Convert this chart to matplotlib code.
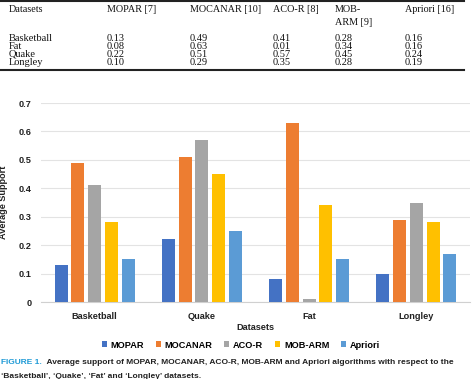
import numpy as np
import matplotlib.pyplot as plt
from matplotlib.lines import Line2D

# table data
tbl_header = ['Datasets', 'MOPAR [7]', 'MOCANAR [10]', 'ACO-R [8]', 'MOB-\nARM [9]', 'Apriori [16]']
tbl_rows = ['Basketball', 'Fat', 'Quake', 'Longley']
tbl_mopar = ['0.13', '0.08', '0.22', '0.10']
tbl_mocanar = ['0.49', '0.63', '0.51', '0.29']
tbl_acor = ['0.41', '0.01', '0.57', '0.35']
tbl_mobarm = ['0.28', '0.34', '0.45', '0.28']
tbl_apriori = ['0.16', '0.16', '0.24', '0.19']

# chart data
datasets = ['Basketball', 'Quake', 'Fat', 'Longley']
algos = ['MOPAR', 'MOCANAR', 'ACO-R', 'MOB-ARM', 'Apriori']
mopar = [0.13, 0.22, 0.08, 0.10]
mocanar = [0.49, 0.51, 0.63, 0.29]
acor = [0.41, 0.57, 0.01, 0.35]
mobarm = [0.28, 0.45, 0.34, 0.28]
apriori = [0.15, 0.25, 0.15, 0.17]
colors = ['#4472C4', '#ED7D31', '#A5A5A5', '#FFC000', '#5B9BD5']

W, H = 474, 379
fig = plt.figure(figsize=(W / 100, H / 100), dpi=100)

def fy(py):
    return 1 - py / H

# ---- table ----
serif = 'Liberation Serif'
col_x = [9, 107, 190, 273, 335, 405]
fig.add_artist(Line2D([0, 464 / W], [fy(1), fy(1)], color='#222222', lw=1.5))
fig.add_artist(Line2D([0, 464 / W], [fy(69.5), fy(69.5)], color='#222222', lw=1.5))
for x, h in zip(col_x, tbl_header):
    fig.text(x / W, fy(5.5), h, family=serif, fontsize=7.3, va='top', ha='left',
             linespacing=1.45, color='#111111')
cols = [tbl_rows, tbl_mopar, tbl_mocanar, tbl_acor, tbl_mobarm, tbl_apriori]
for i in range(len(tbl_rows)):
    y = 38.5 + i * 8.0
    for x, c in zip(col_x, cols):
        fig.text(x / W, fy(y), c[i], family=serif, fontsize=7.5, va='center',
                 ha='left', color='#111111')

# ---- bar chart ----
sans = 'Liberation Sans'
ax = fig.add_axes([41 / W, fy(302), 429 / W, (302 - 103) / H])
x = np.arange(len(datasets))
series = [mopar, mocanar, acor, mobarm, apriori]
slot = 0.156
for k, (vals, col) in enumerate(zip(series, colors)):
    ax.bar(x + (k - 2) * slot, vals, width=0.12, color=col, label=algos[k], zorder=3)

ax.set_xlim(-0.5, 3.5)
ax.set_ylim(0, 0.7)
yt = [0, 0.1, 0.2, 0.3, 0.4, 0.5, 0.6, 0.7]
ax.set_yticks(yt)
ax.set_yticklabels(['0', '0.1', '0.2', '0.3', '0.4', '0.5', '0.6', '0.7'])
ax.set_xticks(x)
ax.set_xticklabels(datasets)
for lab in ax.get_xticklabels() + ax.get_yticklabels():
    lab.set_family(sans)
    lab.set_fontweight('bold')
    lab.set_fontsize(6.6)
    lab.set_color('#222222')
ax.tick_params(axis='y', length=0, pad=7)
ax.tick_params(axis='x', length=0, pad=7)
ax.grid(axis='y', color='#E3E3E3', lw=0.8, zorder=0)
for s in ['top', 'right', 'left']:
    ax.spines[s].set_visible(False)
ax.spines['bottom'].set_color('#D0D0D0')
ax.set_ylabel('Average Support', family=sans, fontweight='bold', fontsize=6.6,
              color='#222222')
ax.yaxis.set_label_coords(-33 / 429, 0.5)
ax.set_xlabel('Datasets', family=sans, fontweight='bold', fontsize=6.6,
              color='#222222')
ax.xaxis.label.set_verticalalignment('center')
ax.xaxis.set_label_coords(0.5, -(327 - 302) / 199)
ax.legend(loc='center', bbox_to_anchor=(241 / W, fy(345)), bbox_transform=fig.transFigure,
          ncol=5, frameon=False, handlelength=0.55, handleheight=0.55, handletextpad=0.4,
          columnspacing=1.3, prop={'family': sans, 'weight': 'bold', 'size': 6.6})

# ---- caption ----
cap1 = 'Average support of MOPAR, MOCANAR, ACO-R, MOB-ARM and Apriori algorithms with respect to the'
cap2 = '\u2018Basketball\u2019, \u2018Quake\u2019, \u2018Fat\u2019 and \u2018Longley\u2019 datasets.'
fs = 6.0
t1 = fig.text(1 / W, fy(363), 'FIGURE 1.', family=sans, fontweight='bold', fontsize=fs,
              color='#1E9AD6', va='center', ha='left')
t2 = ax.annotate('  ' + cap1, xy=(1, 0.5), xycoords=t1, va='center', ha='left', family=sans,
                 fontweight='bold', fontsize=fs, color='#222222', annotation_clip=False)
t3 = fig.text(1 / W, fy(376), cap2, family=sans, fontweight='bold', fontsize=fs,
              color='#222222', va='center', ha='left')
# shrink caption so the first line stays inside the picture
r = fig.canvas.get_renderer()
right = t2.get_window_extent(r).x1
fs2 = fs * 458 / right
for t in (t1, t2, t3):
    t.set_fontsize(fs2)

fig.savefig('out.png', dpi=100)
